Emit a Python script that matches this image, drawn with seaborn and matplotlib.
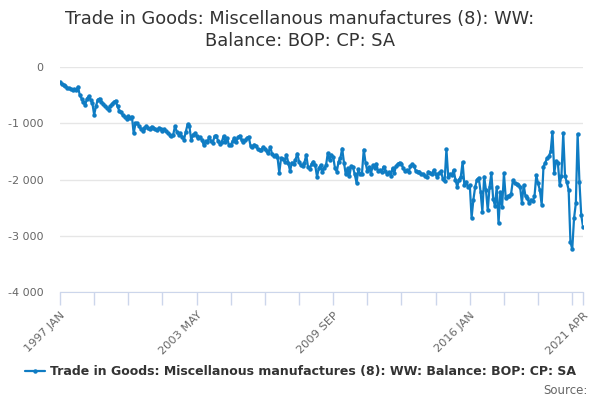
import pandas as pd
import matplotlib
matplotlib.use('Agg')
import matplotlib.pyplot as plt
import seaborn as sns

# monthly series, 1997 JAN .. 2021 APR (GBP million)
months = pd.period_range('1997-01', '2021-04', freq='M')
balance = [
    -275, -300, -320, -340, -370, -380, -390, -400, -395, -410, -350, -500,
    -560, -620, -680, -560, -520, -580, -640, -850, -700, -580, -560, -620,
    -650, -700, -720, -760, -700, -650, -620, -600, -700, -780, -800, -860,
    -880, -920, -870, -900, -880, -1180, -1000, -1000, -1050, -1100, -1130, -1080,
    -1050, -1080, -1100, -1060, -1090, -1100, -1120, -1080, -1100, -1130, -1110, -1140,
    -1180, -1200, -1220, -1200, -1050, -1150, -1200, -1180, -1240, -1290, -1150, -1020,
    -1050, -1300, -1200, -1180, -1230, -1260, -1250, -1300, -1390, -1320, -1340, -1240,
    -1320, -1350, -1230, -1220, -1320, -1370, -1330, -1230, -1330, -1260, -1390, -1390,
    -1320, -1260, -1330, -1250, -1220, -1300, -1330, -1300, -1260, -1240, -1400, -1420,
    -1380, -1400, -1460, -1480, -1470, -1420, -1450, -1500, -1520, -1420, -1550, -1580,
    -1560, -1600, -1880, -1620, -1640, -1680, -1560, -1700, -1850, -1700, -1720, -1650,
    -1540, -1680, -1750, -1760, -1700, -1560, -1780, -1810, -1720, -1680, -1750, -1950,
    -1800, -1750, -1860, -1790, -1750, -1530, -1660, -1560, -1600, -1800, -1860, -1680,
    -1620, -1450, -1700, -1910, -1800, -1940, -1760, -1780, -1910, -2060, -1820, -1900,
    -1900, -1470, -1700, -1850, -1780, -1900, -1750, -1800, -1720, -1850, -1830, -1870,
    -1770, -1840, -1900, -1870, -1930, -1800, -1880, -1760, -1720, -1700, -1730, -1800,
    -1850, -1830, -1870, -1760, -1730, -1760, -1850, -1870, -1860, -1910, -1900, -1930,
    -1960, -1860, -1880, -1900, -1830, -1900, -1950, -1880, -1850, -1990, -2030, -1460,
    -1950, -1900, -1920, -1830, -2000, -2130, -2000, -1950, -1690, -2100, -2040, -2130,
    -2100, -2680, -2360, -2130, -2000, -1970, -2220, -2570, -1950, -2190, -2550, -2130,
    -1890, -2340, -2470, -2130, -2780, -2230, -2480, -1890, -2330, -2300, -2300, -2250,
    -2010, -2070, -2080, -2090, -2130, -2420, -2100, -2300, -2330, -2420, -2360, -2390,
    -2300, -1925, -2070, -2190, -2450, -1770, -1700, -1620, -1590, -1500, -1150, -1880,
    -1670, -1700, -2100, -1930, -1180, -1940, -2050, -2185, -3106, -3240, -2690, -2425,
    -1190, -2040, -2630, -2840,
]
series_name = 'Trade in Goods: Miscellanous manufactures (8): WW: Balance: BOP: CP: SA'
title = 'Trade in Goods: Miscellanous manufactures (8): WW:\nBalance: BOP: CP: SA'
y_ticks = [0, -1000, -2000, -3000, -4000]

df = pd.DataFrame({'pos': range(len(months)), 'value': balance[:len(months)]})

sns.set_style('white')
plt.rcParams['font.family'] = ['DejaVu Sans']

fig = plt.figure(figsize=(6, 4), dpi=100)
ax = fig.add_axes([0.1, 0.27, 0.8717, 0.5625])

sns.lineplot(data=df, x='pos', y='value', ax=ax, color='#0f7cc3', linewidth=1.6,
             marker='o', markersize=3.2, markeredgewidth=0, label=series_name)

ax.set_ylim(-4000, 0)
ax.set_xlim(0, len(months) - 1)
ax.set_yticks(y_ticks)
ax.set_yticklabels([f'{v:,}'.replace(',', ' ') for v in y_ticks], color='#666666', fontsize=8)
ax.grid(axis='y', color='#e6e6e6', linewidth=1)
ax.set_axisbelow(True)

tick_pos = list(range(0, len(months), 19)) + [len(months) - 1]
tick_lab = []
for k, p in enumerate(tick_pos):
    if k % 4 == 0 or p == len(months) - 1:
        tick_lab.append(f'{months[p].year} {months[p].strftime("%b").upper()}')
    else:
        tick_lab.append('')
ax.set_xticks(tick_pos)
ax.set_xticklabels(tick_lab)
for lab in ax.get_xticklabels():
    lab.set_rotation(45)
    lab.set_ha('right')
    lab.set_rotation_mode('anchor')
    lab.set_color('#666666')
    lab.set_fontsize(8.2)
ax.tick_params(axis='x', bottom=True, length=9, color='#ccd6eb', width=1, pad=4)
ax.tick_params(axis='y', left=False, length=0, pad=12)

for s in ['top', 'right', 'left']:
    ax.spines[s].set_visible(False)
ax.spines['bottom'].set_color('#ccd6eb')
ax.set_xlabel('')
ax.set_ylabel('')

fig.suptitle(title, x=0.5, y=0.975, fontsize=12.8, color='#333333', va='top', linespacing=1.3)

leg = ax.legend(loc='center', bbox_to_anchor=(0.5, 0.07), bbox_transform=fig.transFigure,
                frameon=False, handlelength=1.6, handletextpad=0.4,
                prop={'weight': 'bold', 'size': 9})
for t in leg.get_texts():
    t.set_color('#333333')

fig.text(0.98, 0.025, 'Source:', ha='right', va='center', fontsize=8.5, color='#666666')

fig.savefig('out.png', dpi=100)
